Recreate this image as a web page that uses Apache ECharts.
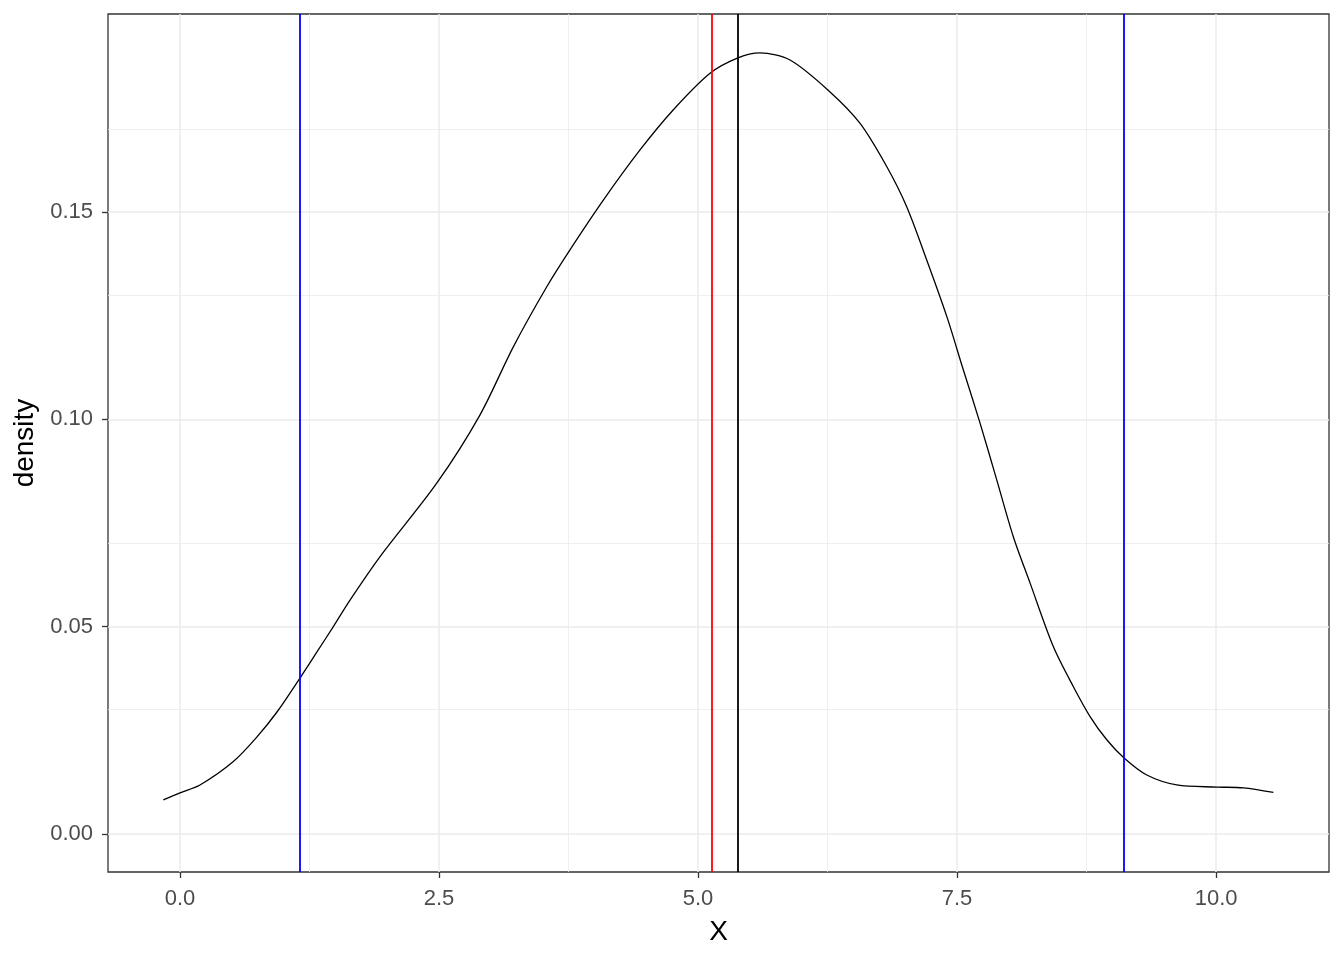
<!DOCTYPE html>
<html>
<head>
<meta charset="utf-8">
<script src="https://cdn.jsdelivr.net/npm/echarts@6/dist/echarts.min.js"></script>
<style>html,body{margin:0;padding:0;background:#fff;}#c{width:1344px;height:960px;}</style>
</head>
<body>
<div id="c"></div>
<script>
// Density curve points
const densX = [-0.161, 0.0, 0.193, 0.512, 0.743, 0.936, 1.158, 1.322, 1.477, 1.641, 1.931, 2.478, 2.896, 3.217, 3.540, 3.764, 4.086, 4.440, 4.762, 5.116, 5.374, 5.598, 5.888, 6.274, 6.564, 6.821, 7.014, 7.208, 7.400, 7.561, 7.722, 7.883, 8.043, 8.205, 8.429, 8.623, 8.784, 8.945, 9.112, 9.331, 9.621, 10.007, 10.264, 10.553];
const densY = [0.0082, 0.0099, 0.0118, 0.0174, 0.0234, 0.0294, 0.0376, 0.0439, 0.0499, 0.0564, 0.0669, 0.0846, 0.1011, 0.1175, 0.1320, 0.1409, 0.1529, 0.1650, 0.1747, 0.1835, 0.1871, 0.1884, 0.1867, 0.1790, 0.1714, 0.1610, 0.1513, 0.1384, 0.1249, 0.1119, 0.0991, 0.0854, 0.0717, 0.0605, 0.0452, 0.0355, 0.0283, 0.0227, 0.0183, 0.0142, 0.0118, 0.0113, 0.0111, 0.0100];
// Vertical reference lines
const blueLines = [1.158, 9.112];
const redLines = [5.130];
const blackLines = [5.383];
// Ticks
const xTicks = [0, 2.5, 5, 7.5, 10];
const xMinor = [1.25, 3.75, 6.25, 8.75];
const yTicks = [0, 0.05, 0.10, 0.15];
const yMinor = [0.025, 0.075, 0.125, 0.175];
const xRange = [-0.695, 11.09];
const yRange = [-0.0092, 0.1978];

const chart = echarts.init(document.getElementById('c'));
const font = 'Liberation Sans, Arial, sans-serif';
const grid = (vals, axis, w) => vals.map(v => ({[axis]: v, lineStyle: {color: '#ebebeb', width: w, type: 'solid'}}));

chart.setOption({
  animation: false,
  backgroundColor: '#fff',
  grid: {left: 108, right: 15, top: 14, bottom: 88, show: true, borderColor: '#333333', borderWidth: 1.3, backgroundColor: 'transparent'},
  xAxis: {
    type: 'value', min: xRange[0], max: xRange[1],
    name: 'X', nameLocation: 'middle', nameGap: 46,
    nameTextStyle: {fontFamily: font, fontSize: 28, color: '#000'},
    axisLine: {show: false, onZero: false},
    splitLine: {show: false},
    axisTick: {show: true, length: 6, lineStyle: {color: '#333333', width: 1.3}, customValues: xTicks},
    axisLabel: {fontFamily: font, fontSize: 22, color: '#4d4d4d', margin: 16, customValues: xTicks, formatter: v => v.toFixed(1)}
  },
  yAxis: {
    type: 'value', min: yRange[0], max: yRange[1],
    name: 'density', nameLocation: 'middle', nameGap: 64, nameRotate: 90,
    nameTextStyle: {fontFamily: font, fontSize: 28, color: '#000'},
    axisLine: {show: false, onZero: false},
    splitLine: {show: false},
    axisTick: {show: true, length: 6, lineStyle: {color: '#333333', width: 1.3}, customValues: yTicks},
    axisLabel: {fontFamily: font, fontSize: 22, color: '#4d4d4d', margin: 15, customValues: yTicks, formatter: v => v.toFixed(2)}
  },
  series: [
    {
      type: 'line', data: [], silent: true, z: 1,
      markLine: {
        z: 1, silent: true, symbol: 'none', label: {show: false}, animation: false,
        data: [].concat(grid(xMinor, 'xAxis', 0.8), grid(yMinor, 'yAxis', 0.8), grid(xTicks, 'xAxis', 1.5), grid(yTicks, 'yAxis', 1.5))
      }
    },
    {
      type: 'line', data: densX.map((x, i) => [x, densY[i]]),
      smooth: 0.3, showSymbol: false, symbol: 'none', z: 3,
      lineStyle: {color: '#000', width: 1.3}
    },
    {
      type: 'line', data: [], silent: true, z: 4,
      markLine: {
        z: 4, silent: true, symbol: 'none', label: {show: false}, animation: false,
        data: [].concat(
          blueLines.map(v => ({xAxis: v, lineStyle: {color: '#0000ff', width: 1.8, type: 'solid'}})),
          redLines.map(v => ({xAxis: v, lineStyle: {color: '#ff0000', width: 1.8, type: 'solid'}})),
          blackLines.map(v => ({xAxis: v, lineStyle: {color: '#000000', width: 1.8, type: 'solid'}}))
        )
      }
    }
  ]
});
</script>
</body>
</html>
